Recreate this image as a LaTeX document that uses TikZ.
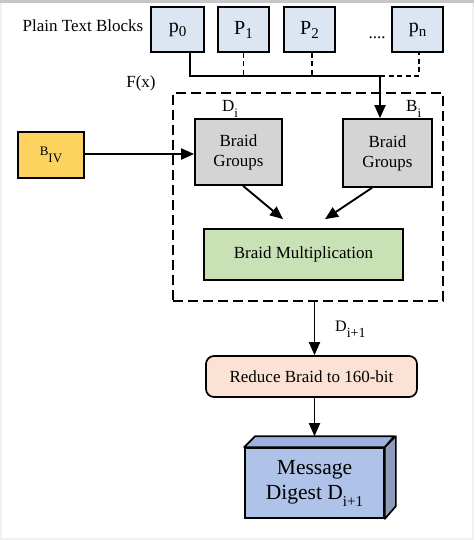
\documentclass[tikz,border=0pt]{standalone}
\usepackage{fontspec}
\setmainfont{Liberation Serif}
\usetikzlibrary{arrows.meta}
\definecolor{pblue}{HTML}{DCE6F2}
\definecolor{bgray}{HTML}{D4D4D4}
\definecolor{byellow}{HTML}{FCD35F}
\definecolor{mgreen}{HTML}{C8E2B6}
\definecolor{rpeach}{HTML}{FBE2D4}
\definecolor{mfront}{HTML}{AFC2E8}
\definecolor{mtop}{HTML}{9DB2DE}
\definecolor{mside}{HTML}{8E9CBC}
\newcommand{\lowsub}[3]{\raisebox{#3}{\fontsize{#2}{#2}\selectfont #1}}
\begin{document}
\begin{tikzpicture}[x=1pt,y=-1pt,
  box/.style={draw, line width=1.7pt, inner sep=0pt, align=center, font=\fontsize{17}{20}\selectfont},
  arr/.style={line width=1.9pt, -{Triangle[length=13pt,width=11pt]}},
  ln/.style={line width=1.8pt},
  dl/.style={line width=1.8pt, dash pattern=on 5pt off 3.5pt},
  lbl/.style={inner sep=0pt, font=\fontsize{17}{20}\selectfont}]
\fill[gray!12] (0,0) rectangle (474,540);
\fill[white] (2,3) rectangle (472,538);
\fill[gray!45] (0,0) rectangle (474,3);
\useasboundingbox (0,0) rectangle (474,540);

% plain text blocks
\node[lbl] (ptb) at (83,26) {Plain Text Blocks};
\node[box, fill=pblue, minimum width=53pt, minimum height=45pt, font=\fontsize{20}{22}\selectfont] (p0) at (177.5,29.5) {p\lowsub{0}{15}{-4pt}};
\node[box, fill=pblue, minimum width=51pt, minimum height=45pt, font=\fontsize{20}{22}\selectfont] (p1) at (243.5,29.5) {P\lowsub{1}{15}{-4pt}};
\node[box, fill=pblue, minimum width=51pt, minimum height=45pt, font=\fontsize{20}{22}\selectfont] (p2) at (309.5,29.5) {P\lowsub{2}{15}{-4pt}};
\node[box, fill=pblue, minimum width=51pt, minimum height=45pt, font=\fontsize{20}{22}\selectfont] (pn) at (417.5,29.5) {p\lowsub{n}{15}{-4pt}};
\node[lbl] (dots) at (377,38) {....};

\coordinate (j) at (380,76);
\draw[ln] ([xshift=12.5pt]p0.south) |- (j);
\draw[dl] (j) -| ([xshift=1.5pt]pn.south);
\draw[dl] (p1.south) -- (p1.south |- j);
\draw[dl] ([xshift=2.5pt]p2.south) -- ([xshift=2.5pt]p2.south |- j);

\node[lbl] (fx) at (141,83) {F(x)};

% dashed frame
\node[draw, line width=1.8pt, dash pattern=on 10pt off 5pt, minimum width=270pt, minimum height=208pt, inner sep=0pt] (frame) at (308,197) {};

\node[box, fill=bgray, minimum width=87pt, minimum height=66pt] (bg1) at (238.5,152) {Braid\\Groups};
\node[box, fill=bgray, minimum width=89pt, minimum height=68pt] (bg2) at (387.5,153) {Braid\\Groups};
\node[lbl, anchor=base west] (di) at (222,112) {D\lowsub{i}{13}{-6pt}};
\node[lbl, anchor=base west] (bi) at (406,112) {B\lowsub{i}{13}{-6pt}};

\draw[arr] (j) -- (j |- bg2.north);

\node[box, fill=byellow, minimum width=66pt, minimum height=46pt, font=\fontsize{13}{15}\selectfont] (biv) at (51,155) {B\raisebox{-7pt}{IV}};
\draw[arr] (biv.east |- 0,154) -- (bg1.west |- 0,154);

\node[box, fill=mgreen, minimum width=199pt, minimum height=51pt] (mult) at (303.5,254.5) {Braid Multiplication};
\coordinate (m1) at ([xshift=-20.5pt,yshift=9pt]mult.north);
\coordinate (m2) at ([xshift=21.5pt,yshift=9pt]mult.north);
\draw[arr] ([xshift=4.5pt]bg1.south) -- (m1);
\draw[arr] ([xshift=-15.5pt]bg2.south) -- (m2);

% lower part
\node[box, fill=rpeach, rounded corners=8pt, minimum width=211pt, minimum height=41pt] (red) at (311.5,376.5) {Reduce Braid to 160-bit};
\node[box, fill=mfront, minimum width=139pt, minimum height=70pt, font=\fontsize{21.5}{25}\selectfont] (dig) at (314.5,483) {Message\\Digest D\lowsub{i+1}{15}{-7pt}};
\draw[line width=1.7pt, fill=mtop, line join=round] (dig.north west) -- ++(11,-11) -- ++(139,0) -- (dig.north east) -- cycle;
\draw[line width=1.7pt, fill=mside, line join=round] (dig.north east) -- ++(11,-11) -- ++(0,70) -- (dig.south east) -- cycle;
\coordinate (dtop) at ([yshift=11pt]dig.north);

\draw[arr] (frame.south -| dig.north) -- (red.north -| dig.north);
\node[lbl, anchor=base west, font=\fontsize{16}{18}\selectfont] (di1) at (335,331) {D\lowsub{i+1}{14}{-6pt}};
\draw[arr] (red.south -| dig.north) -- (dtop);
\end{tikzpicture}
\end{document}
